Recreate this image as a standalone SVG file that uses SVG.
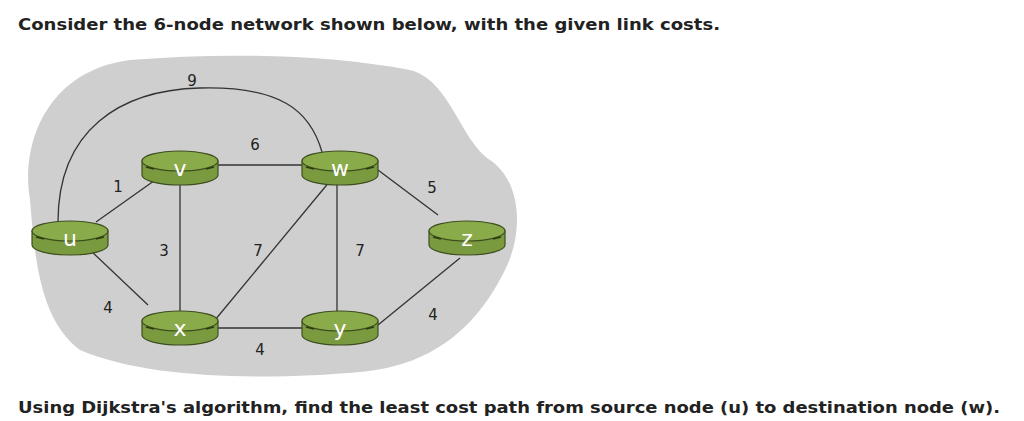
<svg xmlns="http://www.w3.org/2000/svg" width="1024" height="421" viewBox="0 0 1024 421">
<style>
.t{font-family:"DejaVu Sans",Verdana,sans-serif;font-weight:bold;font-size:16px;fill:#222}
.c{font-family:"DejaVu Sans",sans-serif;font-size:15px;fill:#222;text-anchor:middle}
.n{font-family:"DejaVu Sans",sans-serif;font-size:22px;fill:#fff;text-anchor:middle}
.l{stroke:#333;stroke-width:1.3;fill:none}
.body{fill:#7a9a3f;stroke:#3e4f1e;stroke-width:1.2}
.top{fill:#8aab4a;stroke:#3e4f1e;stroke-width:1.2}
.d{stroke:#2d3a14;stroke-width:1.5}
</style>
<defs>
<g id="rt">
<path class="body" d="M-38,-6 L-38,8 A38,10 0 0 0 38,8 L38,-6 Z"/>
<ellipse class="top" cx="0" cy="-6" rx="38" ry="10"/>
<path class="d" d="M-34,0 L-26,2 M34,0 L26,2"/>
</g>
</defs>
<rect width="1024" height="421" fill="#fff"/>
<text class="t" x="18" y="30" textLength="702" lengthAdjust="spacingAndGlyphs">Consider the 6-node network shown below, with the given link costs.</text>
<path d="M30,200 C20,140 50,70 130,60 C230,52 330,55 410,70 C450,80 460,140 490,160 C520,180 525,230 505,270 C480,320 440,365 360,372 C270,380 150,380 80,350 C40,320 35,260 30,200 Z" fill="#cfcfcf"/>
<g id="connectors">
<path class="l" d="M58,222 C58,130 120,90 200,88 C280,86 310,110 322,152"/>
<line class="l" x1="218" y1="165" x2="302" y2="165"/>
<line class="l" x1="96" y1="222" x2="158" y2="178"/>
<line class="l" x1="180" y1="180" x2="180" y2="315"/>
<line class="l" x1="90" y1="250" x2="148" y2="305"/>
<line class="l" x1="218" y1="328" x2="302" y2="328"/>
<line class="l" x1="215" y1="320" x2="335" y2="175"/>
<line class="l" x1="337" y1="180" x2="337" y2="315"/>
<line class="l" x1="378" y1="170" x2="438" y2="215"/>
<line class="l" x1="378" y1="325" x2="460" y2="258"/>
</g>
<g id="costs">
<text class="c" x="192" y="86">9</text>
<text class="c" x="255" y="150">6</text>
<text class="c" x="118" y="192">1</text>
<text class="c" x="164" y="256">3</text>
<text class="c" x="258" y="256">7</text>
<text class="c" x="360" y="256">7</text>
<text class="c" x="432" y="193">5</text>
<text class="c" x="108" y="313">4</text>
<text class="c" x="433" y="320">4</text>
<text class="c" x="260" y="355">4</text>
</g>
<g id="u"><use href="#rt" x="70" y="237"/><text class="n" x="70" y="246">u</text></g>
<g id="v"><use href="#rt" x="180" y="167"/><text class="n" x="180" y="176">v</text></g>
<g id="w"><use href="#rt" x="340" y="167"/><text class="n" x="340" y="176">w</text></g>
<g id="z"><use href="#rt" x="467" y="237"/><text class="n" x="467" y="246">z</text></g>
<g id="x"><use href="#rt" x="180" y="327"/><text class="n" x="180" y="336">x</text></g>
<g id="y"><use href="#rt" x="340" y="327"/><text class="n" x="340" y="336">y</text></g>
<text class="t" x="18" y="413" textLength="982" lengthAdjust="spacingAndGlyphs">Using Dijkstra's algorithm, find the least cost path from source node (u) to destination node (w).</text>
</svg>
